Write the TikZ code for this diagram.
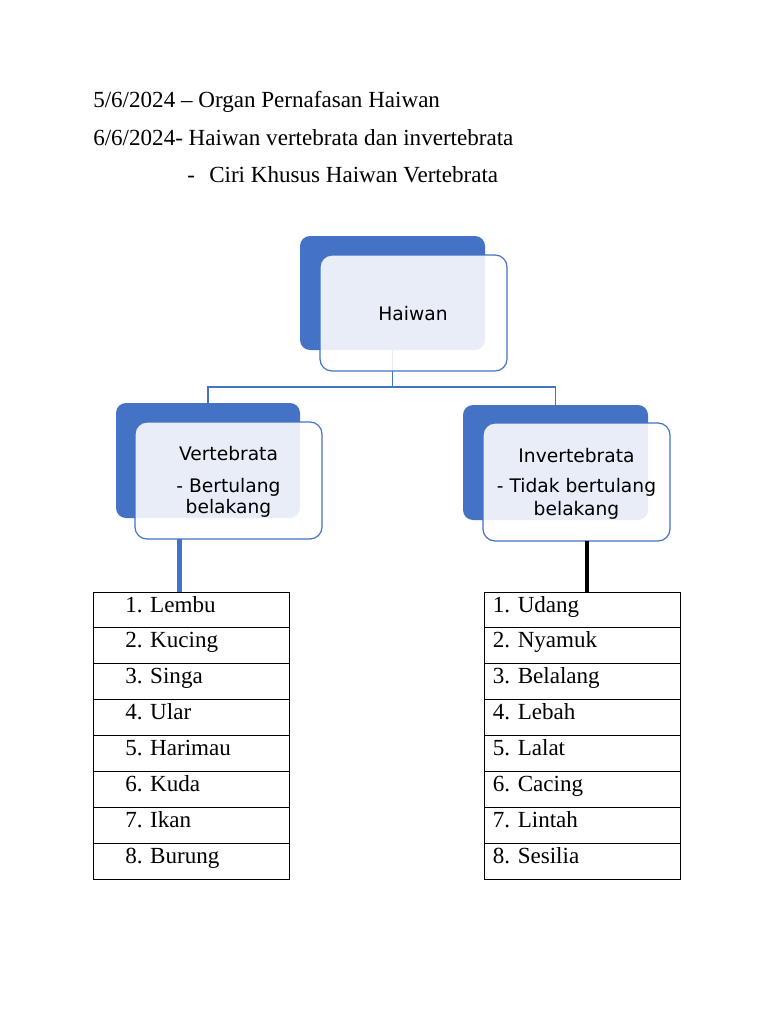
\documentclass[tikz,border=0pt]{standalone}
\usepackage{fontspec}
\setmainfont{Liberation Serif}
\newfontfamily\boxfont{DejaVu Sans}
\definecolor{acc}{HTML}{4472C4}
\begin{document}
\begin{tikzpicture}[x=0.75pt,y=-0.75pt,
  darkbox/.style={rectangle, rounded corners=7.5pt, fill=acc, inner sep=0pt},
  lightbox/.style={rectangle, rounded corners=9pt, draw=acc, line width=0.9pt, fill=white, fill opacity=0.88, inner sep=0pt, minimum width=187*0.75pt},
  lbl/.style={font=\boxfont\fontsize{14pt}{17pt}\selectfont, anchor=base, inner sep=0pt},
  title/.style={font=\fontsize{17.3pt}{20pt}\selectfont, anchor=base west, inner sep=0pt},
  cell/.style={rectangle, draw=black, line width=0.75pt, minimum width=196*0.75pt, minimum height=35.9*0.75pt, inner sep=0pt},
  item/.style={font=\fontsize{17.3pt}{20pt}\selectfont, anchor=base west, inner sep=0pt},
  link/.style={draw=acc, line width=0.8pt}]
\useasboundingbox (0,0) rectangle (768,1024);
\fill[white] (0,0) rectangle (768,1024);

% title lines
\node[title] (t1) at (93,108) {5/6/2024 -- Organ Pernafasan Haiwan};
\node[title] (t2) at (93,145) {6/6/2024- Haiwan vertebrata dan invertebrata};
\node[title] (t3a) at (187,182) {-};
\node[title] (t3) at (209,182) {Ciri Khusus Haiwan Vertebrata};

% dark boxes
\node[darkbox, minimum width=185*0.75pt, minimum height=114*0.75pt] (hd) at (392.5,293) {};
\node[darkbox, minimum width=184*0.75pt, minimum height=115*0.75pt] (vd) at (208,460.5) {};
\node[darkbox, minimum width=185*0.75pt, minimum height=115*0.75pt] (id) at (555.5,462.5) {};

% connectors
\coordinate (jn) at (392.5,387);
\draw[link] (hd.south) -- (jn) -| (vd.north);
\draw[link] (jn) -| (id.north);

% light boxes
\node[lightbox, minimum height=116*0.75pt] (h) at (413.5,313) {};
\node[lightbox, minimum height=117*0.75pt] (v) at (228.5,480.5) {};
\node[lightbox, minimum height=118*0.75pt] (i) at (576.5,482) {};

% box labels
\node[lbl] (hl) at (413,320) {Haiwan};
\node[lbl] (vl1) at (228.5,460) {Vertebrata};
\node[lbl] (vl2) at (228.5,492) {- Bertulang};
\node[lbl] (vl3) at (228.5,513) {belakang};
\node[lbl] (il1) at (576.5,462) {Invertebrata};
\node[lbl] (il2) at (576.5,492) {- Tidak bertulang};
\node[lbl] (il3) at (576.5,515) {belakang};

% tables
\foreach \k/\a/\b in {1/Lembu/Udang,2/Kucing/Nyamuk,3/Singa/Belalang,4/Ular/Lebah,5/Harimau/Lalat,6/Kuda/Cacing,7/Ikan/Lintah,8/Burung/Sesilia}{
  \pgfmathsetmacro{\top}{592+35.9*(\k-1)}
  \node[cell] (l\k) at (191,\top+17.95) {};
  \node[cell] (r\k) at (582,\top+17.95) {};
  \node[item] (lt\k) at (125,\top+20) {\k. \a};
  \node[item] (rt\k) at (492.5,\top+20) {\k. \b};
}

% thick connectors to tables
\coordinate (va) at (179,539);
\draw[acc, line width=3.75pt] (va) -- (va |- l1.north);
\coordinate (ia) at (587,541);
\draw[black, line width=3pt] (ia) -- (ia |- r1.north);
\end{tikzpicture}
\end{document}
